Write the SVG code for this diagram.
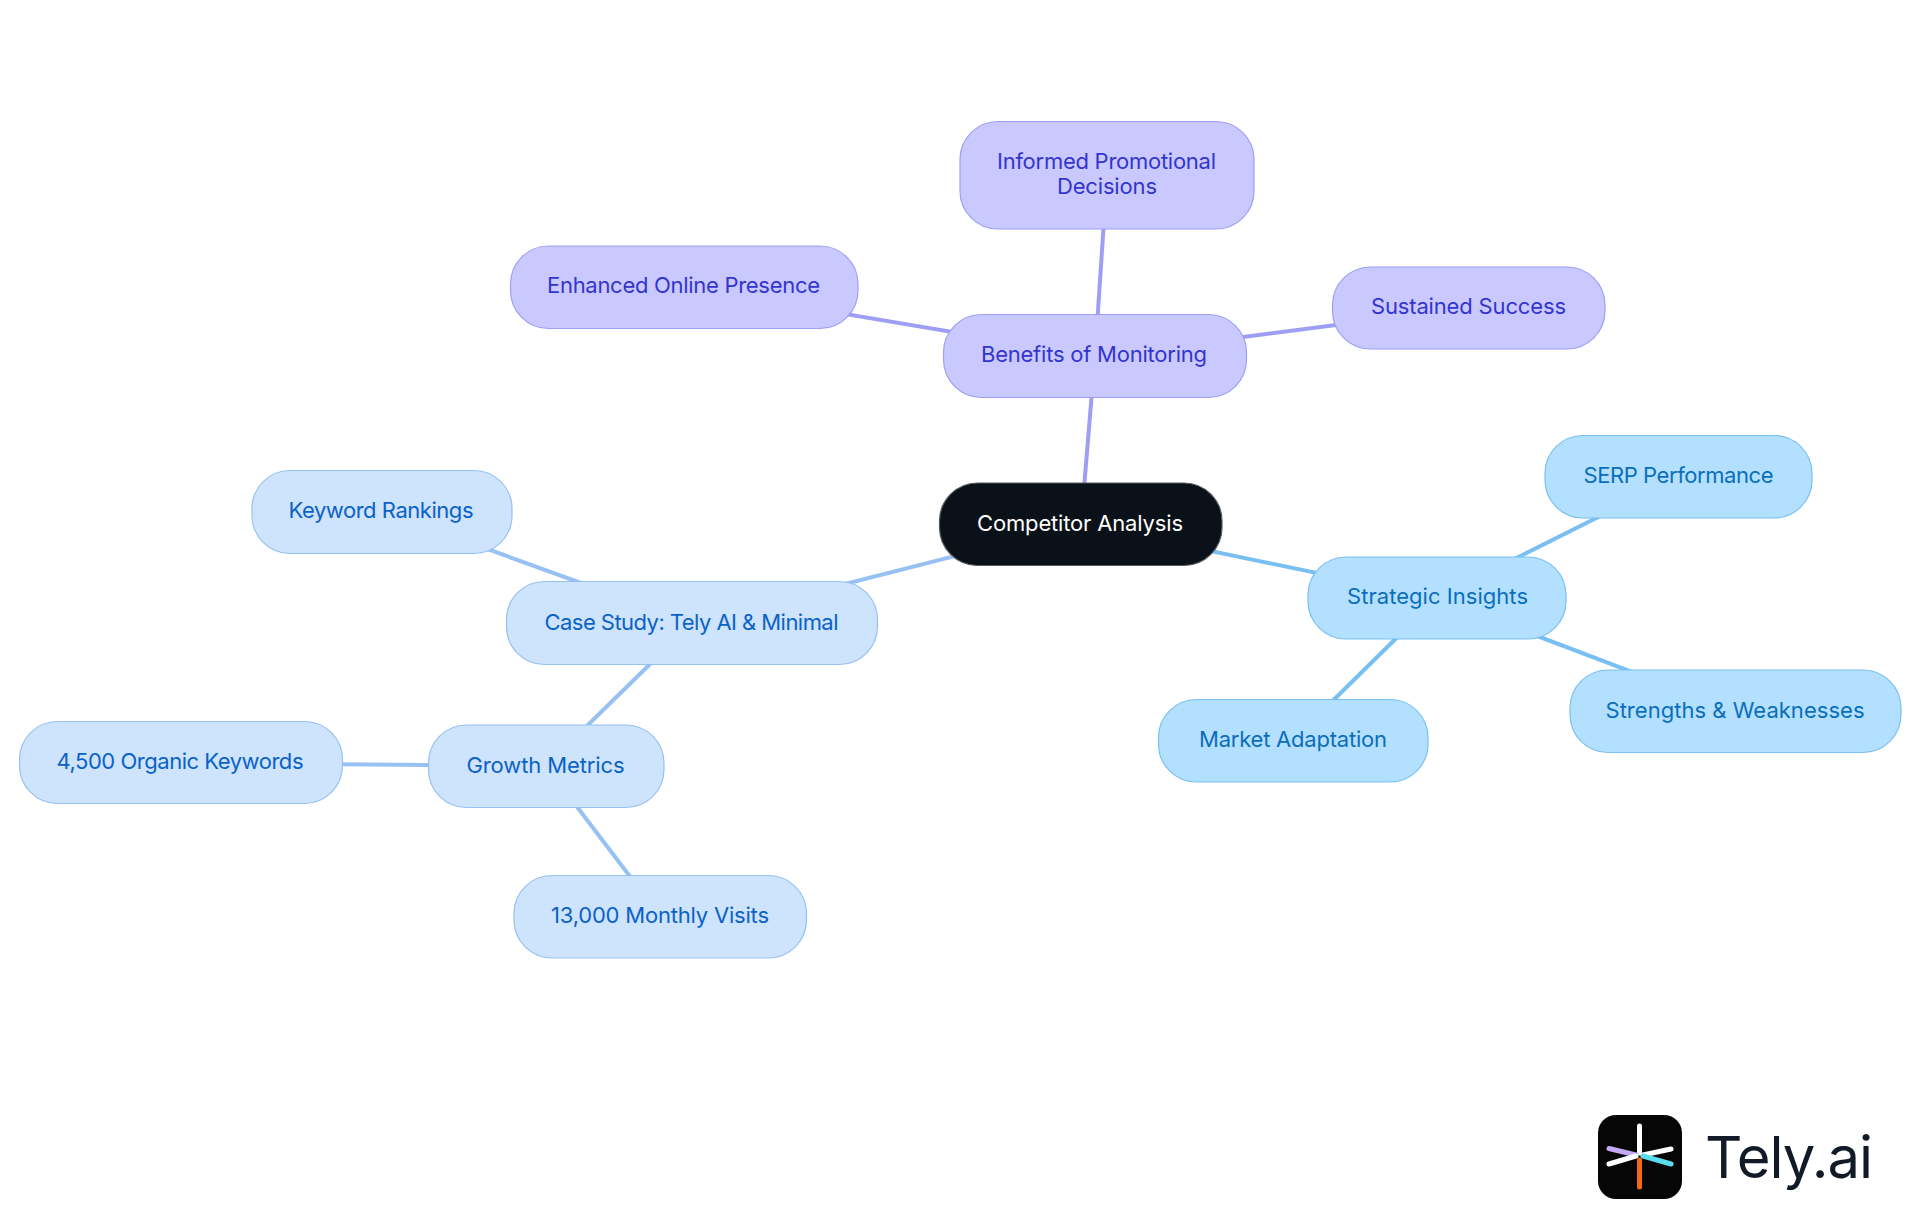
<svg xmlns="http://www.w3.org/2000/svg" width="1920" height="1215" viewBox="0 0 1920 1215">
<style>
text{font-family:"Inter","Noto Sans","Liberation Sans",sans-serif;font-size:22px;font-weight:400;text-anchor:middle}
rect{stroke-width:1.2}
.c line{stroke-width:4;fill:none}
.p rect{fill:#c9c9ff;stroke:#9e9ef5}.p text{fill:#3434cf}
.b rect{fill:#cee3fc;stroke:#96c1f2}.b text{fill:#0a62c9}
.s rect{fill:#b3e0ff;stroke:#79bff2}.s text{fill:#0a6ebd}
.lp{stroke:#9e9ef5}.lb{stroke:#96c1f2}.ls{stroke:#79bff2}
</style>
<rect width="1920" height="1215" fill="#fff" style="stroke:none"/>
<g id="connectors" class="c">
<line class="lp" x1="1081" y1="524" x2="1095" y2="356"/>
<line class="lp" x1="1095" y1="356" x2="1107" y2="175"/>
<line class="lp" x1="1095" y1="356" x2="684" y2="287"/>
<line class="lp" x1="1095" y1="356" x2="1468" y2="308"/>
<line class="ls" x1="1081" y1="524" x2="1437" y2="598"/>
<line class="ls" x1="1437" y1="598" x2="1678" y2="477"/>
<line class="ls" x1="1437" y1="598" x2="1735" y2="711"/>
<line class="ls" x1="1437" y1="598" x2="1293" y2="740"/>
<line class="lb" x1="1081" y1="524" x2="692" y2="623"/>
<line class="lb" x1="692" y1="623" x2="382" y2="511"/>
<line class="lb" x1="692" y1="623" x2="546" y2="766"/>
<line class="lb" x1="546" y1="766" x2="181" y2="763"/>
<line class="lb" x1="546" y1="766" x2="660" y2="916"/>
</g>
<g id="root"><rect x="939.5" y="483" width="282.5" height="82.5" rx="38" fill="#0b1118" stroke="#555a60"/><text x="1080" y="531" fill="#fff" textLength="206">Competitor Analysis</text></g>
<g id="benefits" class="p"><rect x="943.5" y="314.5" width="303" height="83" rx="38"/><text x="1094" y="362" textLength="226">Benefits of Monitoring</text></g>
<g id="informed" class="p"><rect x="960" y="121.500" width="294" height="107.500" rx="38"/><text x="1106.5" y="169" textLength="219">Informed Promotional</text><text x="1107" y="194" textLength="100">Decisions</text></g>
<g id="enhanced" class="p"><rect x="510.5" y="246" width="347.500" height="82.500" rx="38"/><text x="683.500" y="293" textLength="273">Enhanced Online Presence</text></g>
<g id="sustained" class="p"><rect x="1332.500" y="267" width="272.500" height="82" rx="38"/><text x="1468.500" y="314" textLength="195">Sustained Success</text></g>
<g id="strategic" class="s"><rect x="1308" y="557" width="258" height="82" rx="38"/><text x="1437.500" y="604" textLength="181">Strategic Insights</text></g>
<g id="serp" class="s"><rect x="1545" y="435.500" width="267" height="82.500" rx="38"/><text x="1678.500" y="483" textLength="190">SERP Performance</text></g>
<g id="strengths" class="s"><rect x="1570" y="670" width="331" height="82.500" rx="38"/><text x="1735" y="718" textLength="259">Strengths &amp; Weaknesses</text></g>
<g id="market" class="s"><rect x="1158.500" y="699.500" width="269.500" height="82.500" rx="38"/><text x="1293" y="747" textLength="188">Market Adaptation</text></g>
<g id="case" class="b"><rect x="506.500" y="581.500" width="371" height="83" rx="38"/><text x="691.500" y="630" textLength="294">Case Study: Tely AI &amp; Minimal</text></g>
<g id="keyword" class="b"><rect x="252" y="470.500" width="260" height="83" rx="38"/><text x="381" y="518" textLength="185">Keyword Rankings</text></g>
<g id="growth" class="b"><rect x="428.500" y="725" width="235.500" height="82.500" rx="38"/><text x="545.500" y="772.500" textLength="158">Growth Metrics</text></g>
<g id="organic" class="b"><rect x="19.500" y="721.500" width="323" height="82" rx="38"/><text x="180" y="769" textLength="247">4,500 Organic Keywords</text></g>
<g id="visits" class="b"><rect x="514" y="875.500" width="292.500" height="82.500" rx="38"/><text x="660" y="923" textLength="218">13,000 Monthly Visits</text></g>
<g id="logo">
<rect x="1598" y="1115" width="84" height="84" rx="18" fill="#060606" style="stroke:none"/>
<g fill="none" stroke-width="5" stroke-linecap="round">
<path d="M1639.500 1126V1153" stroke="#fff"/>
<path d="M1639.500 1160V1187" stroke="#f56a11"/>
<path d="M1609 1148.500L1636 1155" stroke="#c4a9f5"/>
<path d="M1643 1155L1671 1149" stroke="#fff"/>
<path d="M1609 1164L1636 1156" stroke="#fff"/>
<path d="M1643 1156L1671 1164" stroke="#5bdcee"/>
</g>
<text x="1789" y="1178" fill="#111a26" style="font-size:58px;font-weight:400" textLength="168">Tely.ai</text>
</g>
</svg>
